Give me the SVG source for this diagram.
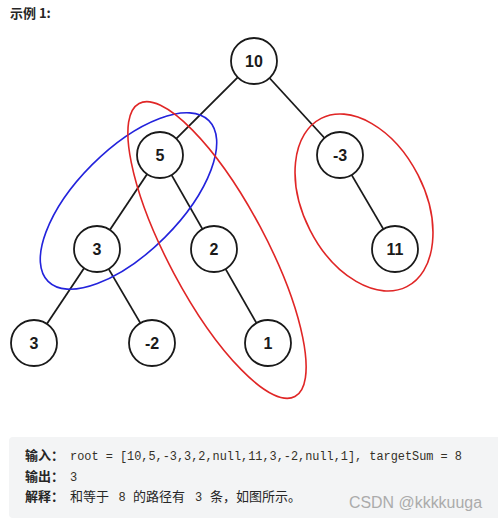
<svg xmlns="http://www.w3.org/2000/svg" width="498" height="528" viewBox="0 0 498 528">
<style>
.node circle{fill:#fff;stroke:#1a1a1a;stroke-width:1.8}
.node text{font-family:"Liberation Sans",Arial,sans-serif;font-weight:bold;font-size:16px;fill:#1a1a1a;text-anchor:middle}
.edges line{stroke:#1a1a1a;stroke-width:1.8}
.ring{fill:none;stroke-width:1.6}
.lbl{font-family:"Noto Sans CJK SC","Liberation Sans",sans-serif;font-weight:bold;font-size:13px;fill:#262626}
.cn{font-family:"Noto Sans CJK SC","Liberation Sans",sans-serif;font-size:13px;fill:#262626}
.code{font-family:"Liberation Mono","DejaVu Sans Mono",monospace;font-size:12px;fill:#333027}
</style>
<rect width="498" height="528" fill="#fff"/>
<text x="10" y="18" class="lbl" font-size="13">示例 1:</text>
<g class="edges">
<line x1="237.7" y1="77.3" x2="176.3" y2="138.7"/>
<line x1="269.5" y1="78" x2="324.5" y2="138"/>
<line x1="147.2" y1="174.1" x2="109.8" y2="229.9"/>
<line x1="171.5" y1="174.9" x2="202.5" y2="229.1"/>
<line x1="351.6" y1="174.9" x2="383.4" y2="229.1"/>
<line x1="84.2" y1="268.1" x2="46.8" y2="323.9"/>
<line x1="108.6" y1="268.9" x2="140.4" y2="323.1"/>
<line x1="225.5" y1="268.9" x2="256.5" y2="323.1"/>
</g>
<g id="n10" class="node"><circle cx="254" cy="61" r="23"/><text x="254" y="67">10</text></g>
<g id="n5" class="node"><circle cx="160" cy="155" r="23"/><text x="160" y="161">5</text></g>
<g id="nm3" class="node"><circle cx="340" cy="155" r="23"/><text x="340" y="161">-3</text></g>
<g id="n3a" class="node"><circle cx="97" cy="249" r="23"/><text x="97" y="255">3</text></g>
<g id="n2" class="node"><circle cx="214" cy="249" r="23"/><text x="214" y="255">2</text></g>
<g id="n11" class="node"><circle cx="395" cy="249" r="23"/><text x="395" y="255">11</text></g>
<g id="n3b" class="node"><circle cx="34" cy="343" r="23"/><text x="34" y="349">3</text></g>
<g id="nm2" class="node"><circle cx="152" cy="343" r="23"/><text x="152" y="349">-2</text></g>
<g id="n1" class="node"><circle cx="268" cy="343" r="23"/><text x="268" y="349">1</text></g>
<g id="rings">
<ellipse class="ring" stroke="#2323dc" cx="128.5" cy="201" rx="113.7" ry="51.4" transform="rotate(-45 128.5 201)"/>
<ellipse class="ring" stroke="#e02626" cx="217" cy="250" rx="166" ry="49" transform="rotate(62 217 250)"/>
<ellipse class="ring" stroke="#e02626" cx="364" cy="202.5" rx="94.4" ry="60.6" transform="rotate(63 364 202.5)"/>
</g>
<g id="example">
<rect x="9" y="437" width="495" height="81" rx="4" fill="#f3f4f5"/>
<text x="25" y="460" class="lbl">输入：</text>
<text x="70" y="460" class="code" textLength="392" lengthAdjust="spacingAndGlyphs">root = [10,5,-3,3,2,null,11,3,-2,null,1], targetSum = 8</text>
<text x="25" y="481" class="lbl">输出：</text>
<text x="70" y="481" class="code">3</text>
<text x="25" y="501" class="lbl">解释：</text>
<text x="70" y="501" class="cn">和等于</text>
<text x="118.5" y="501" class="code">8</text>
<text x="133" y="501" class="cn">的路径有</text>
<text x="195" y="501" class="code">3</text>
<text x="210" y="501" class="cn">条，如图所示。</text>
<text x="349" y="508" font-family="'Liberation Sans',Arial,sans-serif" font-size="16" fill="#ababab" textLength="133" lengthAdjust="spacingAndGlyphs">CSDN @kkkkuuga</text>
</g>
</svg>
